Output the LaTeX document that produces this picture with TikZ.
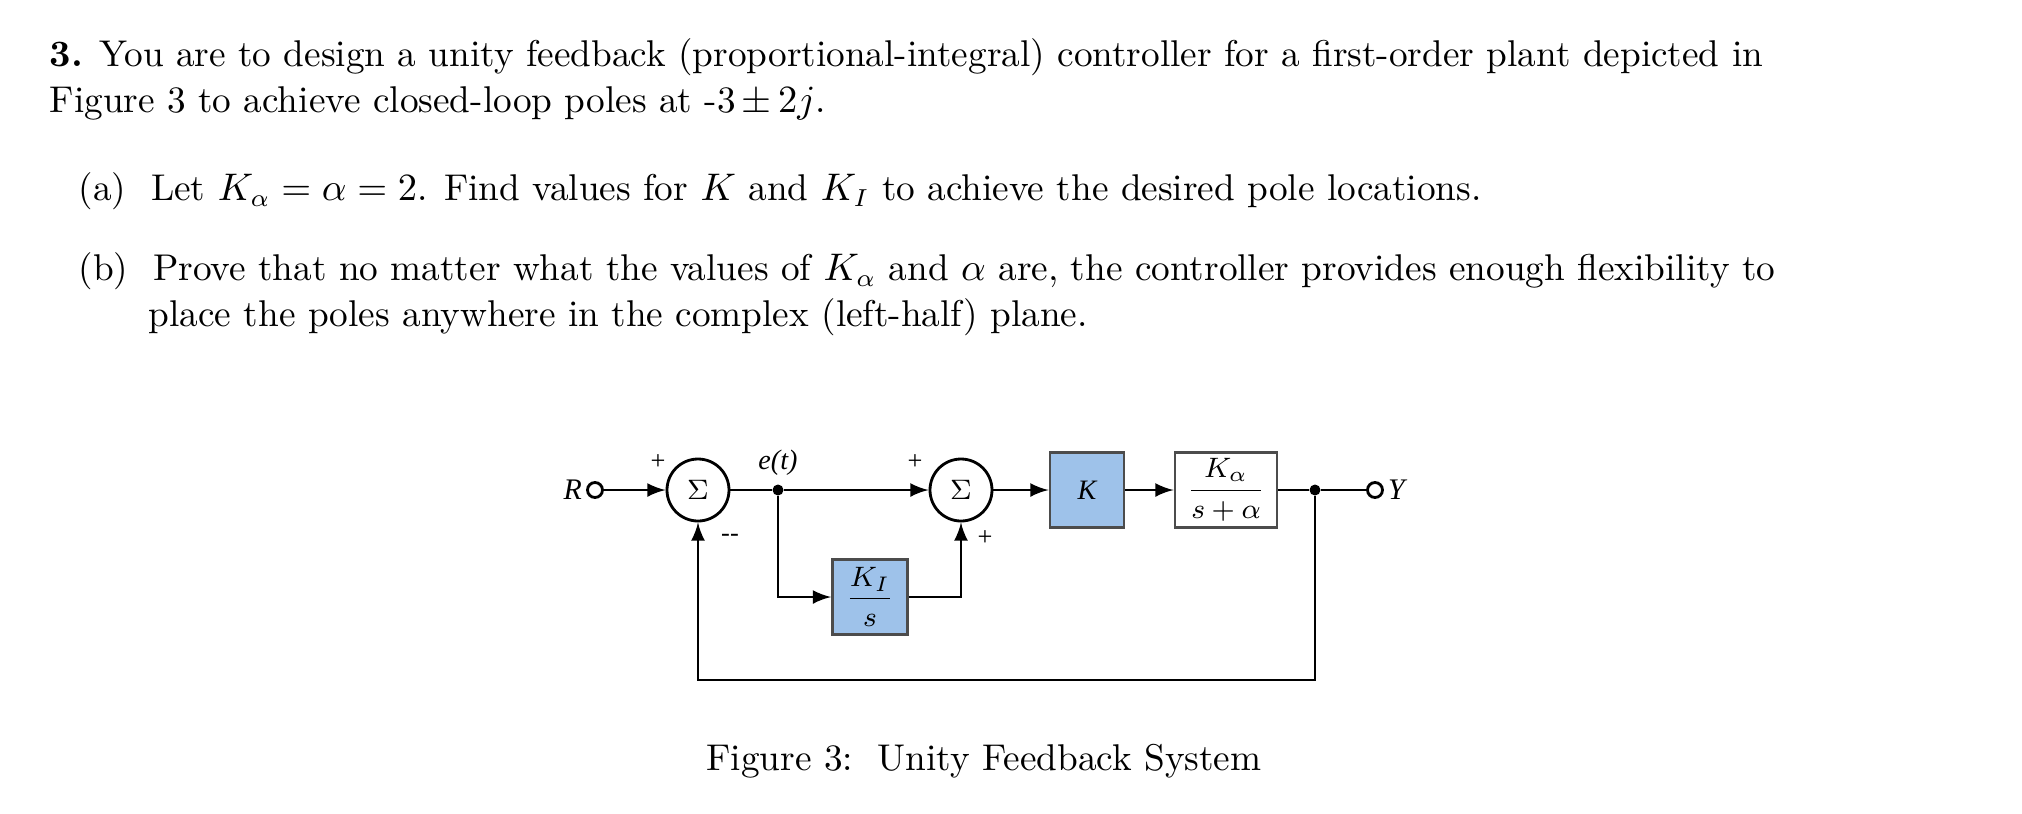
\documentclass[tikz,border=0pt]{standalone}
\usepackage{fontspec}
\usepackage{amsmath}
\usetikzlibrary{arrows,positioning,fit}
\definecolor{blockblue}{RGB}{158,194,234}
\newfontfamily\diagfont{Liberation Serif}
\begin{document}
\begin{tikzpicture}[x=1cm,y=1cm]
    \tikzset{
      textline/.style={anchor=west,inner sep=0pt,font=\fontsize{10.6}{13}\selectfont},
      sumnode/.style={circle,draw=black,thick,minimum size=0.62cm,inner sep=0pt,font=\diagfont\fontsize{8}{9}\selectfont},
      blocknode/.style={rectangle,draw=black!70,thick,minimum height=0.75cm,inner sep=1pt,font=\diagfont\itshape\fontsize{8}{9}\selectfont},
      signlabel/.style={font=\diagfont\fontsize{7.5}{8}\selectfont,inner sep=1pt},
      portnode/.style={circle,draw=black,thick,fill=white,minimum size=0.15cm,inner sep=0pt},
      dotnode/.style={circle,fill=black,minimum size=0.11cm,inner sep=0pt},
      arrow/.style={->,>=latex,thick}
    }
    \useasboundingbox (0,0) rectangle (20.22,-8.13);
    % problem text
    \node[textline] (l1) at (0.49,-0.57) {\textbf{3.} You are to design a unity feedback (proportional-integral) controller for a first-order plant depicted in};
    \node[textline] (l2) at (0.49,-1.03) {Figure 3 to achieve closed-loop poles at -3\,$\pm$\,$2j$.};
    \node[textline] (l3) at (0.78,-1.91) {(a)\ \ Let $K_\alpha=\alpha=2$. Find values for $K$ and $K_I$ to achieve the desired pole locations.};
    \node[textline] (l4) at (0.78,-2.71) {(b)\ \ Prove that no matter what the values of $K_\alpha$ and $\alpha$ are, the controller provides enough flexibility to};
    \node[textline] (l5) at (1.48,-3.17) {place the poles anywhere in the complex (left-half) plane.};
    % block diagram
    \node[portnode] (rin) at (5.95,-4.90) {};
    \node[signlabel,font=\diagfont\itshape\fontsize{8.5}{9}\selectfont,left=0pt of rin] (rlabel) {R};
    \node[sumnode] (sum1) at (6.98,-4.90) {$\Sigma$};
    \node[dotnode] (edot) at (7.78,-4.90) {};
    \node[signlabel,font=\diagfont\itshape\fontsize{8}{9}\selectfont] (elabel) at (7.78,-4.63) {e(t)};
    \node[sumnode] (sum2) at (9.61,-4.90) {$\Sigma$};
    \node[blocknode,fill=blockblue,minimum width=0.74cm] (kgain) at (10.87,-4.90) {K};
    \node[blocknode,fill=white,minimum width=1.02cm] (plant) at (12.26,-4.90) {$\dfrac{K_\alpha}{s+\alpha}$};
    \node[dotnode] (ydot) at (13.15,-4.90) {};
    \node[portnode] (yout) at (13.75,-4.90) {};
    \node[signlabel,font=\diagfont\itshape\fontsize{8.5}{9}\selectfont,right=0pt of yout] (ylabel) {Y};
    \node[blocknode,fill=blockblue,minimum width=0.75cm] (integ) at (8.70,-5.97) {$\dfrac{K_I}{s}$};
    \coordinate (fb) at (6.98,-6.80);
    \node[signlabel] (p1) at (6.58,-4.62) {+};
    \node[signlabel] (m1) at (7.30,-5.38) {--};
    \node[signlabel] (p2) at (9.15,-4.62) {+};
    \node[signlabel] (p3) at (9.85,-5.38) {+};

    \draw[arrow](rin) -- (sum1);
    \draw[thick](sum1) -- (edot);
    \draw[arrow](edot) -- (sum2);
    \draw[arrow](sum2) -- (kgain);
    \draw[arrow](kgain) -- (plant);
    \draw[thick](plant) -- (ydot) -- (yout);
    \draw[arrow](edot) |- (integ);
    \draw[arrow](integ) -| (sum2);
    \draw[arrow](ydot) |- (fb) -- (sum1);
    % caption
    \node[font=\fontsize{10.6}{13}\selectfont] (caption) at (9.84,-7.61) {Figure 3:\ \ Unity Feedback System};
\end{tikzpicture}
\end{document}
